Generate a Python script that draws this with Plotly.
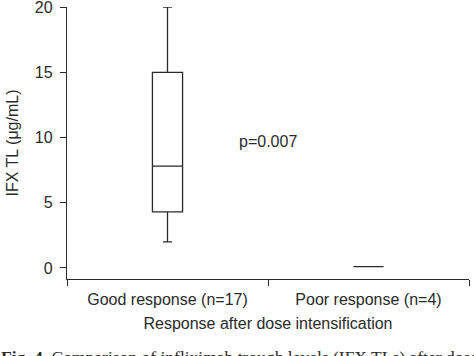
import plotly.graph_objects as go

categories = ["Good response (n=17)", "Poor response (n=4)"]
positions = [0.5, 1.5]
lower_fence = [2.0, 0.1]
q1 = [4.3, 0.1]
median = [7.8, 0.1]
q3 = [15.0, 0.1]
upper_fence = [20.0, 0.1]
y_ticks = [0, 5, 10, 15, 20]
p_text = "p=0.007"

ink = "#2a2a2a"
font = dict(family="Liberation Sans, Arial, sans-serif", size=16, color=ink)

fig = go.Figure()
fig.add_trace(go.Box(
    x=positions, q1=q1, median=median, q3=q3,
    lowerfence=lower_fence, upperfence=upper_fence,
    width=0.15, whiskerwidth=0.3,
    fillcolor="rgba(0,0,0,0)",
    line=dict(color=ink, width=1.3),
    boxpoints=False, hoverinfo="skip", showlegend=False,
))

fig.add_annotation(x=1.0, y=9.7, text=p_text, showarrow=False, font=font,
                   xanchor="center", yanchor="middle")
fig.add_annotation(xref="paper", yref="paper", x=-0.168, y=-0.244,
                   xanchor="left", yanchor="top", showarrow=False,
                   text="<b>Fig. 4.</b> Comparison of infliximab trough levels (IFX TLs) after dose intensification",
                   font=dict(family="Liberation Serif, serif", size=17.5, color=ink))

fig.update_layout(
    width=474, height=356,
    margin=dict(l=67, r=5, t=7, b=77),
    plot_bgcolor="white", paper_bgcolor="white",
    font=font,
    xaxis=dict(
        range=[0, 2], tickmode="array", tickvals=positions, ticktext=categories,
        ticks="", showgrid=False, zeroline=False, automargin=False,
        showline=True, linecolor=ink, linewidth=1.3,
        tickfont=dict(size=16), ticklabelstandoff=6,
        minor=dict(tickmode="array", tickvals=[0, 1, 2], ticks="outside",
                   ticklen=6, tickwidth=1.3, tickcolor=ink, showgrid=False),
        title=dict(text="Response after dose intensification", standoff=10,
                   font=dict(size=16)),
        fixedrange=True,
    ),
    yaxis=dict(
        range=[-0.85, 20.01], tickmode="array", tickvals=y_ticks,
        ticks="outside", ticklen=6, tickwidth=1.3, tickcolor=ink,
        showgrid=False, zeroline=False, automargin=False,
        showline=True, linecolor=ink, linewidth=1.3,
        tickfont=dict(size=16), ticklabelstandoff=4, ticklabeloverflow="allow",
        title=dict(text="IFX TL (μg/mL)", standoff=12, font=dict(size=16)),
        fixedrange=True,
    ),
)

fig.write_html("out.html", config={"displayModeBar": False},
               post_script="document.body.style.margin='0';")
